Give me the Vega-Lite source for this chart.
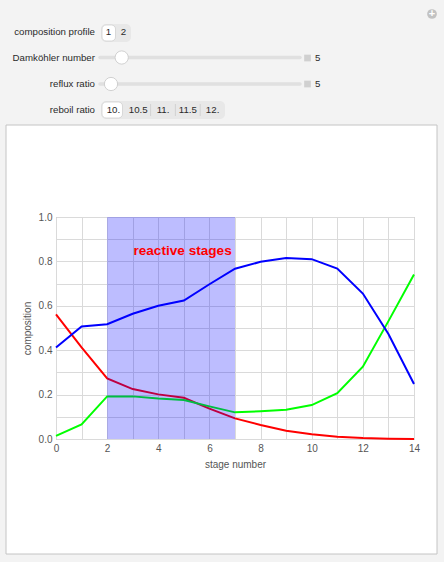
{
  "$schema": "https://vega.github.io/schema/vega-lite/v6.json",
  "width": 358,
  "height": 222,
  "autosize": {"type": "none"},
  "padding": {"left": 56, "top": 217, "right": 30, "bottom": 123},
  "background": "white",
  "config": {
    "font": "Liberation Sans",
    "view": {"stroke": "#a4a4a4", "strokeWidth": 1}
  },
  "data": {
    "values": [
      {"stage": 0, "component": "A", "composition": 0.561},
      {"stage": 1, "component": "A", "composition": 0.413},
      {"stage": 2, "component": "A", "composition": 0.273},
      {"stage": 3, "component": "A", "composition": 0.225},
      {"stage": 4, "component": "A", "composition": 0.201},
      {"stage": 5, "component": "A", "composition": 0.186},
      {"stage": 6, "component": "A", "composition": 0.137},
      {"stage": 7, "component": "A", "composition": 0.093},
      {"stage": 8, "component": "A", "composition": 0.063},
      {"stage": 9, "component": "A", "composition": 0.037},
      {"stage": 10, "component": "A", "composition": 0.021},
      {"stage": 11, "component": "A", "composition": 0.010},
      {"stage": 12, "component": "A", "composition": 0.004},
      {"stage": 13, "component": "A", "composition": 0.001},
      {"stage": 14, "component": "A", "composition": 0.000},
      {"stage": 0, "component": "B", "composition": 0.014},
      {"stage": 1, "component": "B", "composition": 0.066},
      {"stage": 2, "component": "B", "composition": 0.192},
      {"stage": 3, "component": "B", "composition": 0.192},
      {"stage": 4, "component": "B", "composition": 0.182},
      {"stage": 5, "component": "B", "composition": 0.176},
      {"stage": 6, "component": "B", "composition": 0.147},
      {"stage": 7, "component": "B", "composition": 0.120},
      {"stage": 8, "component": "B", "composition": 0.125},
      {"stage": 9, "component": "B", "composition": 0.132},
      {"stage": 10, "component": "B", "composition": 0.153},
      {"stage": 11, "component": "B", "composition": 0.206},
      {"stage": 12, "component": "B", "composition": 0.326},
      {"stage": 13, "component": "B", "composition": 0.531},
      {"stage": 14, "component": "B", "composition": 0.741},
      {"stage": 0, "component": "C", "composition": 0.412},
      {"stage": 1, "component": "C", "composition": 0.507},
      {"stage": 2, "component": "C", "composition": 0.517},
      {"stage": 3, "component": "C", "composition": 0.564},
      {"stage": 4, "component": "C", "composition": 0.600},
      {"stage": 5, "component": "C", "composition": 0.624},
      {"stage": 6, "component": "C", "composition": 0.697},
      {"stage": 7, "component": "C", "composition": 0.767},
      {"stage": 8, "component": "C", "composition": 0.798},
      {"stage": 9, "component": "C", "composition": 0.815},
      {"stage": 10, "component": "C", "composition": 0.810},
      {"stage": 11, "component": "C", "composition": 0.768},
      {"stage": 12, "component": "C", "composition": 0.655},
      {"stage": 13, "component": "C", "composition": 0.473},
      {"stage": 14, "component": "C", "composition": 0.248}
    ]
  },
  "resolve": {"scale": {"x": "independent", "y": "independent", "color": "independent"}},
  "layer": [
    {
      "mark": {"type": "line", "strokeWidth": 2},
      "encoding": {
        "x": {
          "field": "stage",
          "type": "quantitative",
          "scale": {"domain": [0, 14], "nice": false, "zero": false},
          "axis": {
            "values": [0, 1, 2, 3, 4, 5, 6, 7, 8, 9, 10, 11, 12, 13, 14],
            "labelExpr": "datum.value % 2 == 0 ? datum.label : ''",
            "labelFlush": false,
            "title": "stage number",
            "grid": true,
            "gridColor": "#dadada",
            "ticks": false,
            "domain": false,
            "labelColor": "#555555",
            "labelFontSize": 10,
            "labelPadding": 4,
            "titleColor": "#555555",
            "titleFontWeight": "normal",
            "titleFontSize": 10,
            "titlePadding": 6
          }
        },
        "y": {
          "field": "composition",
          "type": "quantitative",
          "scale": {"domain": [0, 1], "nice": false, "zero": false},
          "axis": {
            "values": [0, 0.1, 0.2, 0.3, 0.4, 0.5, 0.6, 0.7, 0.8, 0.9, 1],
            "format": ".1f",
            "labelExpr": "round(datum.value * 10) % 2 == 0 ? datum.label : ''",
            "labelFlush": false,
            "title": "composition",
            "grid": true,
            "gridColor": "#dadada",
            "ticks": false,
            "domain": false,
            "labelColor": "#555555",
            "labelFontSize": 10,
            "labelPadding": 4,
            "titleColor": "#555555",
            "titleFontWeight": "normal",
            "titleFontSize": 10,
            "titlePadding": 6
          }
        },
        "color": {
          "field": "component",
          "type": "nominal",
          "scale": {"domain": ["A", "B", "C"], "range": ["#ff0000", "#00ff00", "#0000ff"]},
          "legend": null
        }
      }
    },
    {
      "data": {"values": [{"zone": "reactive stages", "first": 2, "last": 7}]},
      "mark": {"type": "rect", "color": "#0000ff", "opacity": 0.26},
      "encoding": {
        "x": {"field": "first", "type": "quantitative", "scale": {"domain": [0, 14], "nice": false, "zero": false}, "axis": null},
        "x2": {"field": "last"},
        "y": {"datum": 0, "type": "quantitative", "scale": {"domain": [0, 1], "nice": false, "zero": false}, "axis": null},
        "y2": {"datum": 1}
      }
    },
    {
      "data": {"values": [{"zone": "reactive stages"}]},
      "mark": {"type": "text", "color": "#ff0000", "fontWeight": "bold", "fontSize": 13.6, "baseline": "middle"},
      "encoding": {
        "text": {"field": "zone"},
        "x": {"datum": 4.95, "type": "quantitative", "scale": {"domain": [0, 14], "nice": false, "zero": false}, "axis": null},
        "y": {"datum": 0.845, "type": "quantitative", "scale": {"domain": [0, 1], "nice": false, "zero": false}, "axis": null}
      }
    },
    {
      "data": {"values": [{}]},
      "mark": {"type": "rect", "color": "#f3f3f3"},
      "encoding": {
        "x": {"datum": 0, "type": "quantitative", "scale": {"domain": [56, 414], "nice": false, "zero": false}, "axis": null},
        "x2": {"datum": 444},
        "y": {"datum": 0, "type": "quantitative", "scale": {"domain": [217, 439], "nice": false, "zero": false, "reverse": true}, "axis": null},
        "y2": {"datum": 125}
      }
    },
    {
      "data": {"values": [{}]},
      "mark": {"type": "rect", "color": "#f3f3f3"},
      "encoding": {
        "x": {"datum": 0, "type": "quantitative", "scale": {"domain": [56, 414], "nice": false, "zero": false}, "axis": null},
        "x2": {"datum": 6},
        "y": {"datum": 125, "type": "quantitative", "scale": {"domain": [217, 439], "nice": false, "zero": false, "reverse": true}, "axis": null},
        "y2": {"datum": 562}
      }
    },
    {
      "data": {"values": [{}]},
      "mark": {"type": "rect", "color": "#f3f3f3"},
      "encoding": {
        "x": {"datum": 437, "type": "quantitative", "scale": {"domain": [56, 414], "nice": false, "zero": false}, "axis": null},
        "x2": {"datum": 444},
        "y": {"datum": 125, "type": "quantitative", "scale": {"domain": [217, 439], "nice": false, "zero": false, "reverse": true}, "axis": null},
        "y2": {"datum": 562}
      }
    },
    {
      "data": {"values": [{}]},
      "mark": {"type": "rect", "color": "#f3f3f3"},
      "encoding": {
        "x": {"datum": 0, "type": "quantitative", "scale": {"domain": [56, 414], "nice": false, "zero": false}, "axis": null},
        "x2": {"datum": 444},
        "y": {"datum": 554, "type": "quantitative", "scale": {"domain": [217, 439], "nice": false, "zero": false, "reverse": true}, "axis": null},
        "y2": {"datum": 562}
      }
    },
    {
      "data": {"values": [{}]},
      "mark": {"type": "rect", "filled": false, "color": "#c4c4c4", "strokeWidth": 1},
      "encoding": {
        "x": {"datum": 6, "type": "quantitative", "scale": {"domain": [56, 414], "nice": false, "zero": false}, "axis": null},
        "x2": {"datum": 437},
        "y": {"datum": 125, "type": "quantitative", "scale": {"domain": [217, 439], "nice": false, "zero": false, "reverse": true}, "axis": null},
        "y2": {"datum": 554}
      }
    },
    {
      "data": {
        "values": [
          {"control": "composition profile", "row": 1},
          {"control": "Damköhler number", "row": 2},
          {"control": "reflux ratio", "row": 3},
          {"control": "reboil ratio", "row": 4}
        ]
      },
      "mark": {"type": "text", "align": "right", "baseline": "middle", "fontSize": 9.7, "color": "#2a2a2a"},
      "encoding": {
        "text": {"field": "control"},
        "x": {"datum": 95, "type": "quantitative", "scale": {"domain": [56, 414], "nice": false, "zero": false}, "axis": null},
        "y": {"field": "row", "type": "quantitative", "scale": {"domain": [8.115, 16.654], "nice": false, "zero": false, "reverse": true}, "axis": null}
      }
    },
    {
      "data": {"values": [{}]},
      "mark": {"type": "rect", "color": "#e8e8e8", "cornerRadius": 5},
      "encoding": {
        "x": {"datum": 101, "type": "quantitative", "scale": {"domain": [56, 414], "nice": false, "zero": false}, "axis": null},
        "x2": {"datum": 131},
        "y": {"datum": 24, "type": "quantitative", "scale": {"domain": [217, 439], "nice": false, "zero": false, "reverse": true}, "axis": null},
        "y2": {"datum": 42}
      }
    },
    {
      "data": {"values": [{}]},
      "mark": {"type": "rect", "color": "#ffffff", "stroke": "#cccccc", "strokeWidth": 0.7, "cornerRadius": 4},
      "encoding": {
        "x": {"datum": 102, "type": "quantitative", "scale": {"domain": [56, 414], "nice": false, "zero": false}, "axis": null},
        "x2": {"datum": 115.5},
        "y": {"datum": 25, "type": "quantitative", "scale": {"domain": [217, 439], "nice": false, "zero": false, "reverse": true}, "axis": null},
        "y2": {"datum": 41}
      }
    },
    {
      "data": {"values": [{}]},
      "mark": {"type": "rect", "color": "#e8e8e8", "cornerRadius": 5},
      "encoding": {
        "x": {"datum": 101, "type": "quantitative", "scale": {"domain": [56, 414], "nice": false, "zero": false}, "axis": null},
        "x2": {"datum": 225},
        "y": {"datum": 101, "type": "quantitative", "scale": {"domain": [217, 439], "nice": false, "zero": false, "reverse": true}, "axis": null},
        "y2": {"datum": 119}
      }
    },
    {
      "data": {"values": [{}]},
      "mark": {"type": "rect", "color": "#ffffff", "stroke": "#cccccc", "strokeWidth": 0.7, "cornerRadius": 4},
      "encoding": {
        "x": {"datum": 102, "type": "quantitative", "scale": {"domain": [56, 414], "nice": false, "zero": false}, "axis": null},
        "x2": {"datum": 122.5},
        "y": {"datum": 102, "type": "quantitative", "scale": {"domain": [217, 439], "nice": false, "zero": false, "reverse": true}, "axis": null},
        "y2": {"datum": 118}
      }
    },
    {
      "data": {"values": [{"option": "11."}, {"option": "11.5"}, {"option": "12."}]},
      "mark": {"type": "rule", "color": "#d2d2d2", "strokeWidth": 1},
      "encoding": {
        "x": {"field": "option", "type": "nominal", "bandPosition": 0, "sort": null, "scale": {"type": "band", "domain": ["10.", "10.5", "11.", "11.5", "12."], "range": [45, 169], "paddingInner": 0, "paddingOuter": 0}, "axis": null},
        "y": {"datum": 104, "type": "quantitative", "scale": {"domain": [217, 439], "nice": false, "zero": false, "reverse": true}, "axis": null},
        "y2": {"datum": 116}
      }
    },
    {
      "data": {"values": [{"option": "1", "row": 1}, {"option": "2", "row": 1}]},
      "mark": {"type": "text", "baseline": "middle", "fontSize": 9.7, "color": "#2a2a2a"},
      "encoding": {
        "text": {"field": "option"},
        "x": {"field": "option", "type": "nominal", "sort": null, "scale": {"type": "band", "domain": ["1", "2"], "range": [45, 75], "paddingInner": 0, "paddingOuter": 0}, "axis": null},
        "y": {"field": "row", "type": "quantitative", "scale": {"domain": [8.115, 16.654], "nice": false, "zero": false, "reverse": true}, "axis": null}
      }
    },
    {
      "data": {
        "values": [
          {"option": "10.", "row": 4},
          {"option": "10.5", "row": 4},
          {"option": "11.", "row": 4},
          {"option": "11.5", "row": 4},
          {"option": "12.", "row": 4}
        ]
      },
      "mark": {"type": "text", "baseline": "middle", "fontSize": 9.7, "color": "#2a2a2a"},
      "encoding": {
        "text": {"field": "option"},
        "x": {"field": "option", "type": "nominal", "sort": null, "scale": {"type": "band", "domain": ["10.", "10.5", "11.", "11.5", "12."], "range": [45, 169], "paddingInner": 0, "paddingOuter": 0}, "axis": null},
        "y": {"field": "row", "type": "quantitative", "scale": {"domain": [8.115, 16.654], "nice": false, "zero": false, "reverse": true}, "axis": null}
      }
    },
    {
      "data": {"values": [{}]},
      "mark": {"type": "rule", "color": "#e0e0e0", "strokeWidth": 3.5, "strokeCap": "round"},
      "encoding": {
        "x": {"datum": 100, "type": "quantitative", "scale": {"domain": [56, 414], "nice": false, "zero": false}, "axis": null},
        "x2": {"datum": 300},
        "y": {"datum": 57.5, "type": "quantitative", "scale": {"domain": [217, 439], "nice": false, "zero": false, "reverse": true}, "axis": null}
      }
    },
    {
      "data": {"values": [{}]},
      "mark": {"type": "rule", "color": "#e0e0e0", "strokeWidth": 3.5, "strokeCap": "round"},
      "encoding": {
        "x": {"datum": 100, "type": "quantitative", "scale": {"domain": [56, 414], "nice": false, "zero": false}, "axis": null},
        "x2": {"datum": 300},
        "y": {"datum": 84, "type": "quantitative", "scale": {"domain": [217, 439], "nice": false, "zero": false, "reverse": true}, "axis": null}
      }
    },
    {
      "data": {"values": [{}]},
      "mark": {"type": "point", "filled": true, "color": "#ffffff", "stroke": "#c6c6c6", "strokeWidth": 0.8, "size": 175, "opacity": 1},
      "encoding": {
        "x": {"datum": 121.7, "type": "quantitative", "scale": {"domain": [56, 414], "nice": false, "zero": false}, "axis": null},
        "y": {"datum": 57.5, "type": "quantitative", "scale": {"domain": [217, 439], "nice": false, "zero": false, "reverse": true}, "axis": null}
      }
    },
    {
      "data": {"values": [{}]},
      "mark": {"type": "point", "filled": true, "color": "#ffffff", "stroke": "#c6c6c6", "strokeWidth": 0.8, "size": 175, "opacity": 1},
      "encoding": {
        "x": {"datum": 111, "type": "quantitative", "scale": {"domain": [56, 414], "nice": false, "zero": false}, "axis": null},
        "y": {"datum": 84, "type": "quantitative", "scale": {"domain": [217, 439], "nice": false, "zero": false, "reverse": true}, "axis": null}
      }
    },
    {
      "data": {"values": [{"setting": "5", "row": 2}, {"setting": "5", "row": 3}]},
      "mark": {"type": "point", "shape": "square", "filled": true, "color": "#d0d0d0", "size": 45, "opacity": 1},
      "encoding": {
        "x": {"datum": 307.5, "type": "quantitative", "scale": {"domain": [56, 414], "nice": false, "zero": false}, "axis": null},
        "y": {"field": "row", "type": "quantitative", "scale": {"domain": [8.115, 16.654], "nice": false, "zero": false, "reverse": true}, "axis": null}
      }
    },
    {
      "data": {"values": [{"setting": "5", "row": 2}, {"setting": "5", "row": 3}]},
      "mark": {"type": "text", "align": "left", "baseline": "middle", "fontSize": 9.7, "color": "#2a2a2a"},
      "encoding": {
        "text": {"field": "setting"},
        "x": {"datum": 315, "type": "quantitative", "scale": {"domain": [56, 414], "nice": false, "zero": false}, "axis": null},
        "y": {"field": "row", "type": "quantitative", "scale": {"domain": [8.115, 16.654], "nice": false, "zero": false, "reverse": true}, "axis": null}
      }
    },
    {
      "data": {"values": [{}]},
      "mark": {"type": "point", "shape": "circle", "filled": true, "color": "#c2c2c2", "size": 95, "opacity": 1},
      "encoding": {
        "x": {"datum": 432, "type": "quantitative", "scale": {"domain": [56, 414], "nice": false, "zero": false}, "axis": null},
        "y": {"datum": 14, "type": "quantitative", "scale": {"domain": [217, 439], "nice": false, "zero": false, "reverse": true}, "axis": null}
      }
    },
    {
      "data": {"values": [{"icon": "+"}]},
      "mark": {"type": "text", "baseline": "middle", "fontSize": 11, "fontWeight": "bold", "color": "#ffffff"},
      "encoding": {
        "text": {"field": "icon"},
        "x": {"datum": 432, "type": "quantitative", "scale": {"domain": [56, 414], "nice": false, "zero": false}, "axis": null},
        "y": {"datum": 14, "type": "quantitative", "scale": {"domain": [217, 439], "nice": false, "zero": false, "reverse": true}, "axis": null}
      }
    }
  ]
}
